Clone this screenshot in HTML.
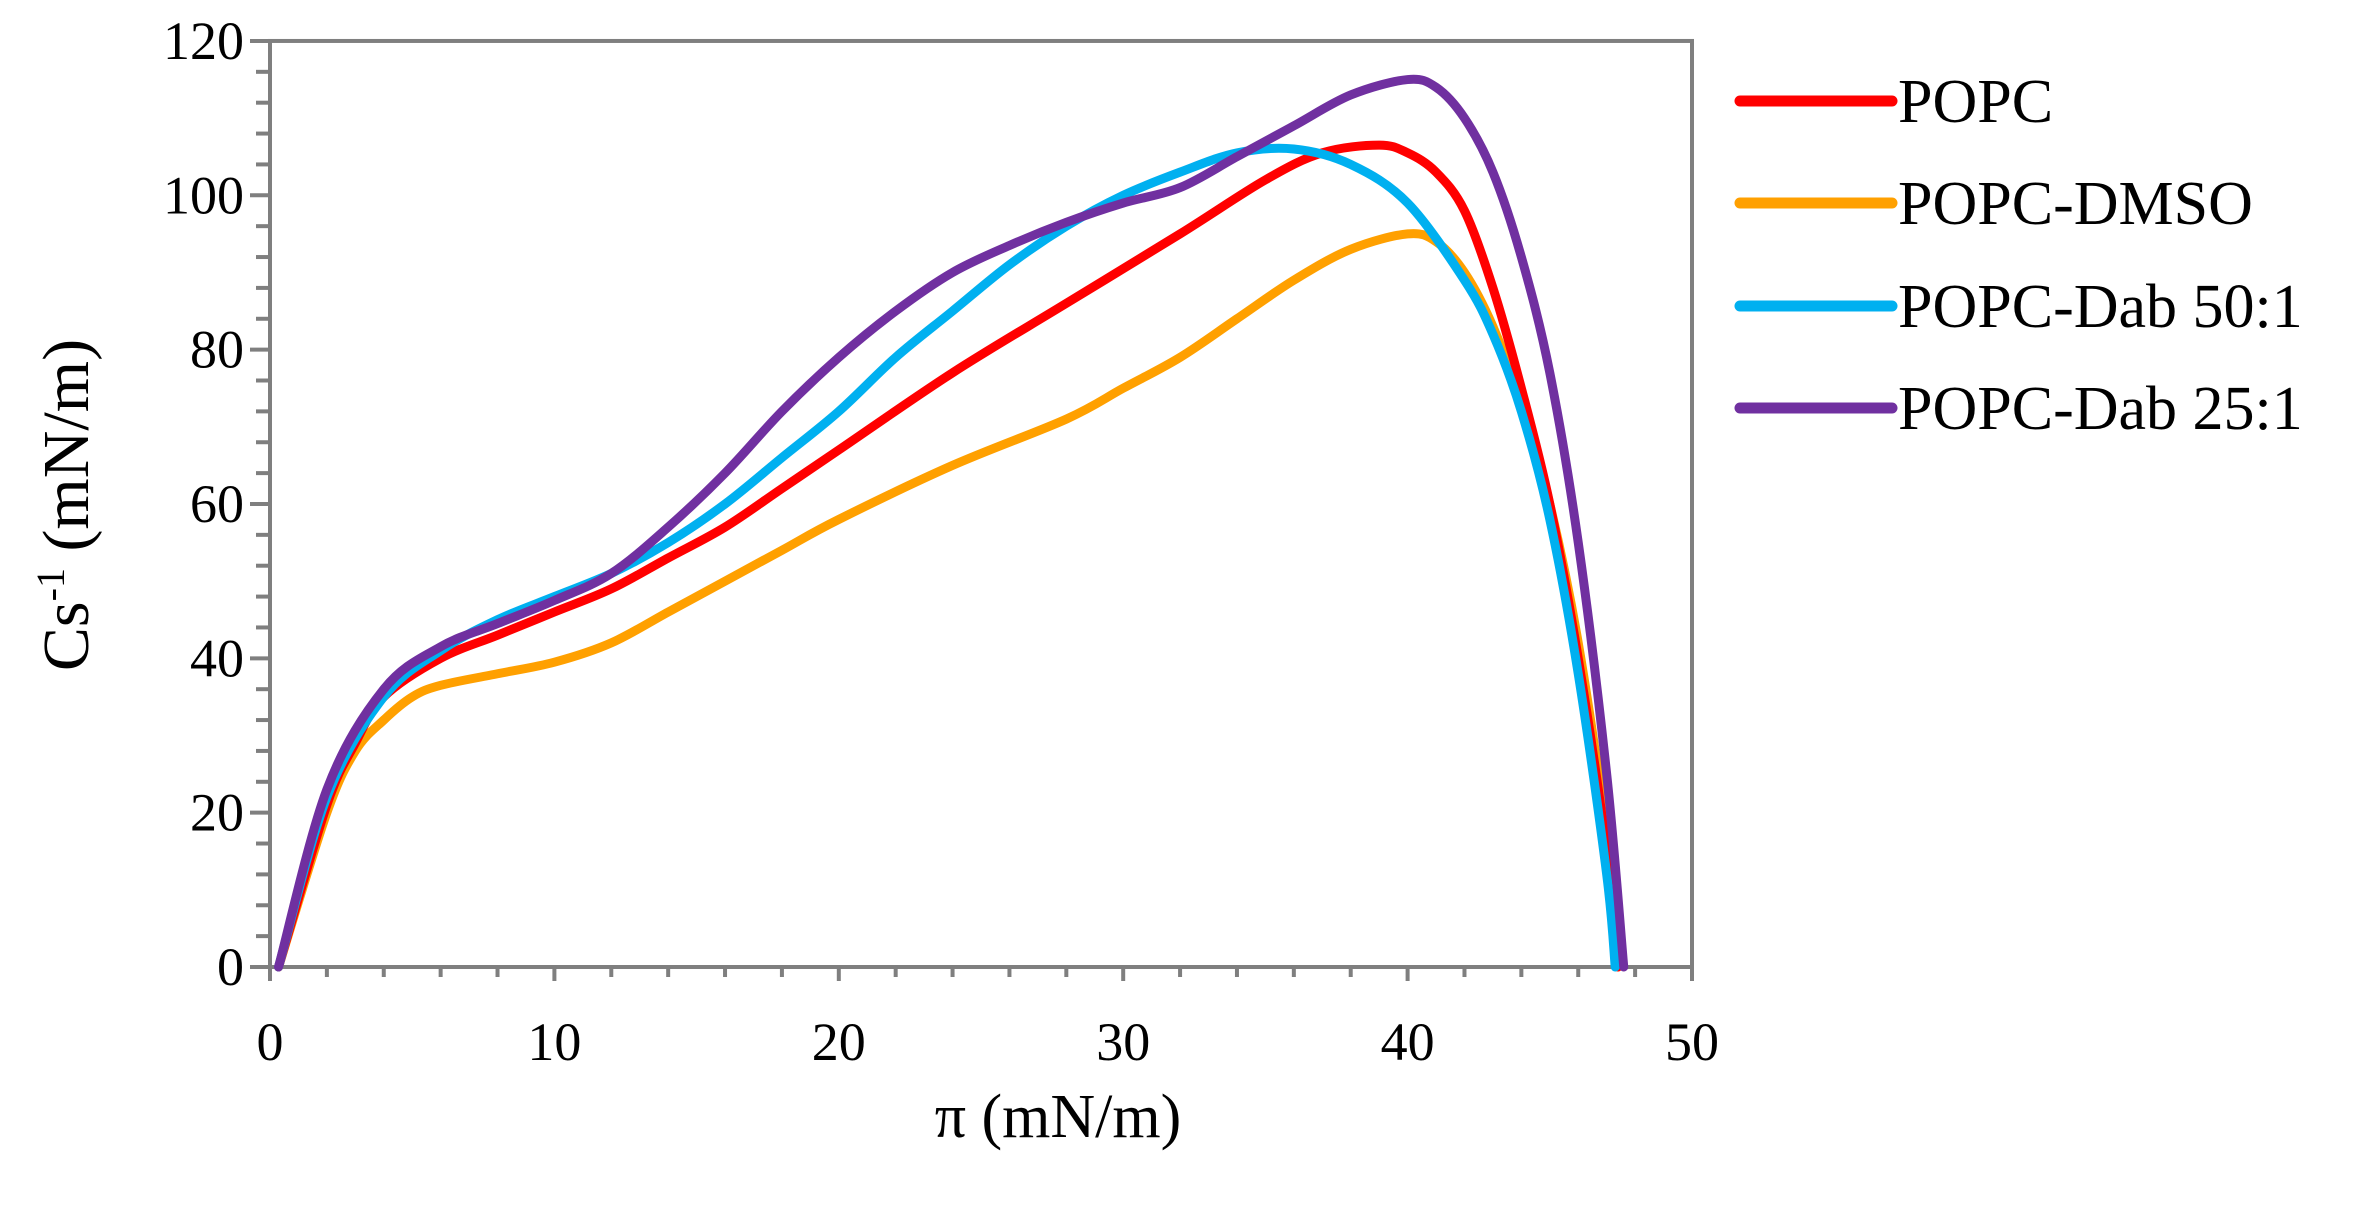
<!DOCTYPE html>
<html><head><meta charset="utf-8"><style>
html,body{margin:0;padding:0;background:#fff;}
svg{display:block;}
</style></head><body>
<svg id="s" width="2369" height="1205" xmlns="http://www.w3.org/2000/svg" font-family="Liberation Serif, serif">
<g id="ax" stroke="#7f7f7f" stroke-width="4" fill="none"></g>
<g id="lab" font-size="54" fill="#000"></g>
<text x="1058" y="1137" font-size="62" text-anchor="middle">π (mN/m)</text>
<text transform="translate(88,505) rotate(-90)" font-size="66" text-anchor="middle">Cs<tspan font-size="40" dy="-24">-1</tspan><tspan dy="24"> (mN/m)</tspan></text>
<g id="cur" fill="none" stroke-width="9" stroke-linejoin="round" stroke-linecap="round"></g>
<g stroke-width="11" stroke-linecap="round">
<line x1="1740" y1="101" x2="1892" y2="101" stroke="#ff0000"/>
<line x1="1740" y1="203" x2="1892" y2="203" stroke="#ffa000"/>
<line x1="1740" y1="306" x2="1892" y2="306" stroke="#00b0f0"/>
<line x1="1740" y1="408" x2="1892" y2="408" stroke="#7030a0"/>
</g>
<g font-size="62" fill="#000">
<text x="1898" y="122">POPC</text>
<text x="1898" y="224">POPC-DMSO</text>
<text x="1898" y="327">POPC-Dab 50:1</text>
<text x="1898" y="429">POPC-Dab 25:1</text>
</g>
</svg>
<script>
var X0=270,XS=28.44,Y0=967,YS=7.717;
function px(x){return X0+x*XS} function py(y){return Y0-y*YS}
var ns="http://www.w3.org/2000/svg";
function el(p,t,a,txt){var e=document.createElementNS(ns,t);for(var k in a)e.setAttribute(k,a[k]);if(txt!=null)e.textContent=txt;p.appendChild(e);return e}
var ax=document.getElementById('ax'),lab=document.getElementById('lab');
el(ax,'rect',{x:X0,y:py(120),width:px(50)-X0,height:Y0-py(120)});
for(var v=0;v<=120;v+=4){var l=(v%20==0)?20:14;el(ax,'line',{x1:X0-l,y1:py(v),x2:X0,y2:py(v)});}
for(var v=0;v<=120;v+=20)el(lab,'text',{x:X0-26,y:py(v)+18,'text-anchor':'end'},String(v));
for(var v=0;v<=50;v+=2){var l=(v%10==0)?14:10;el(ax,'line',{x1:px(v),y1:Y0,x2:px(v),y2:Y0+l});}
for(var v=0;v<=50;v+=10)el(lab,'text',{x:px(v),y:1060,'text-anchor':'middle'},String(v));
var S=[
["#ffa000",[[0.3,0],[2,20],[3,28],[4,32],[5,35],[6,36.5],[8,38],[10,39.5],[12,42],[14,46],[16,50],[18,54],[20,58],[24,65],[28,71],[30,75],[32,79],[34,84],[36,89],[38,93],[40,95],[41,94],[42,90],[43,83],[44,73],[45,60],[46,42],[47,17],[47.4,0]]],
["#ff0000",[[0.3,0],[2,21],[3,29],[4,35],[6,40],[8,43],[10,46],[12,49],[14,53],[16,57],[18,62],[20,67],[24,77],[28,86],[32,95],[35,102],[37,105.5],[39,106.5],[40,105.5],[41,103],[42,98],[43,88],[44,75],[45,60],[46,40],[47,15],[47.4,0]]],
["#00b0f0",[[0.3,0],[2,22],[4,35],[6,41],[8,45],[10,48],[12,51],[14,55],[16,60],[18,66],[20,72],[22,79],[24,85],[26,91],[28,96],[30,100],[32,103],[34,105.5],[36,106],[38,104],[40,99],[42,89],[43,82],[44,72],[45,58],[46,38],[47,12],[47.3,0]]],
["#7030a0",[[0.3,0],[2,23],[4,36],[6,41.5],[8,44.5],[10,47.5],[12,51],[14,57],[16,64],[18,72],[20,79],[22,85],[24,90],[26,93.5],[28,96.5],[30,99],[32,101],[34,105],[36,109],[38,113],[40,115],[41,114],[42,110],[43,103],[44,92],[45,77],[46,55],[47,25],[47.6,0]]]
];
var cur=document.getElementById('cur');
S.forEach(function(s){var p=s[1].map(function(q){return[px(q[0]),py(q[1])]});
var d="M"+p[0][0]+","+p[0][1];
for(var i=0;i<p.length-1;i++){var a=p[Math.max(i-1,0)],b=p[i],c=p[i+1],e=p[Math.min(i+2,p.length-1)];
d+=" C"+(b[0]+(c[0]-a[0])/6)+","+(b[1]+(c[1]-a[1])/6)+" "+(c[0]-(e[0]-b[0])/6)+","+(c[1]-(e[1]-b[1])/6)+" "+c[0]+","+c[1];}
el(cur,'path',{d:d,stroke:s[0]});});
</script>
</body></html>
